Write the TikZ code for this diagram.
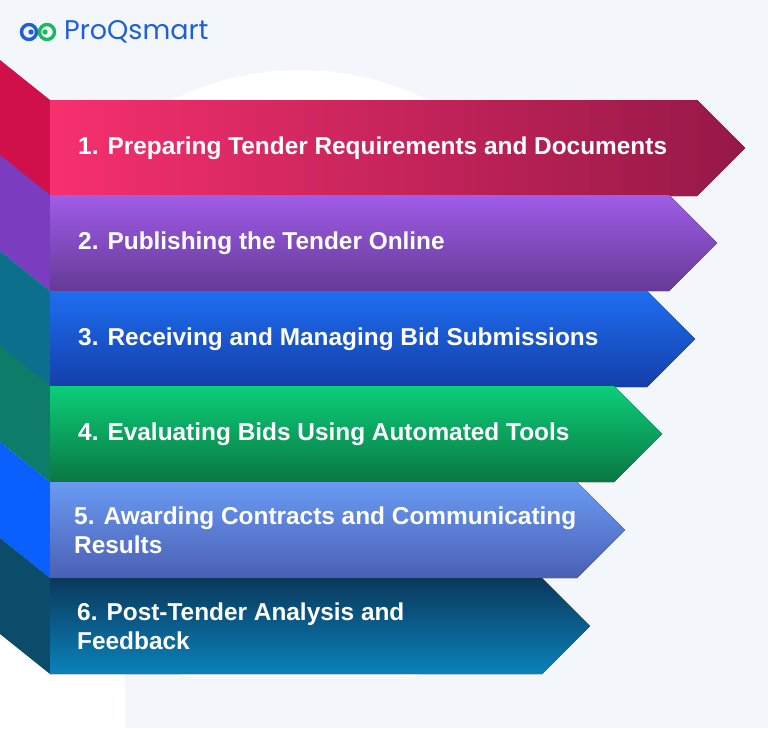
\documentclass[tikz,border=0pt]{standalone}
\usepackage{fontspec}
\setmainfont{Liberation Sans}
\newfontfamily\logofont{Poppins}
\begin{document}
\begin{tikzpicture}[x=1pt,y=-1pt,
  lbl/.style={anchor=west,text=white,font=\bfseries\fontsize{24.4}{29}\selectfont,align=left,inner sep=0pt}]
\useasboundingbox (0,0) rectangle (768,728);
\fill[fill={rgb,255:red,243;green,246;blue,251}] (0,0) rectangle (768,728);
\begin{scope}
\clip (0,0) rectangle (768,676);
\fill[white] (300,385) ellipse [x radius=300, y radius=315];
\end{scope}
\fill[white] (0,600) rectangle (125,728);
% logo
\draw[line width=3.4pt,color={rgb,255:red,30;green,95;blue,216}] (29,32) circle (7.5);
\fill[color={rgb,255:red,30;green,95;blue,216}] (31,32) circle (2.7);
\draw[line width=3.4pt,color={rgb,255:red,24;green,184;blue,96}] (47,32) circle (7.5);
\fill[color={rgb,255:red,24;green,184;blue,96}] (45,32) circle (2.7);
\node[anchor=west,inner sep=0pt,text={rgb,255:red,30;green,95;blue,216},font=\logofont\fontsize{27}{30}\selectfont] (logo) at (64,32) {ProQsmart};
\newcommand\band[7]{%
  \fill[#3] (0,#1-40) -- (50,#1) -- (50,#1+96) -- (0,#1+56) -- cycle;
  \fill[#4] (50,#1) -- (#2-48,#1) -- (#2,#1+48) -- (#2-48,#1+96) -- (50,#1+96) -- cycle;
  \node[lbl] (#6) at (#7,#1+48) {#5};}
\band{100}{745}{fill={rgb,255:red,208;green,16;blue,74}}{left color={rgb,255:red,246;green,48;blue,110},right color={rgb,255:red,150;green,24;blue,72}}{1. Preparing Tender Requirements and Documents}{b1}{78}
\band{195}{717}{fill={rgb,255:red,122;green,61;blue,192}}{top color={rgb,255:red,160;green,92;blue,232},bottom color={rgb,255:red,100;green,58;blue,150}}{2. Publishing the Tender Online}{b2}{78}
\band{291}{695}{fill={rgb,255:red,12;green,112;blue,140}}{top color={rgb,255:red,30;green,110;blue,240},bottom color={rgb,255:red,20;green,62;blue,170}}{3. Receiving and Managing Bid Submissions}{b3}{78}
\band{386}{662}{fill={rgb,255:red,14;green,124;blue,104}}{top color={rgb,255:red,12;green,206;blue,122},bottom color={rgb,255:red,10;green,118;blue,66}}{4. Evaluating Bids Using Automated Tools}{b4}{78}
\band{482}{625}{fill={rgb,255:red,10;green,96;blue,255}}{top color={rgb,255:red,106;green,154;blue,242},bottom color={rgb,255:red,74;green,96;blue,180}}{5. Awarding Contracts and Communicating\\Results}{b5}{74}
\band{578}{590}{fill={rgb,255:red,10;green,76;blue,106}}{top color={rgb,255:red,10;green,56;blue,92},bottom color={rgb,255:red,10;green,130;blue,186}}{6. Post-Tender Analysis and\\Feedback}{b6}{77}
\end{tikzpicture}
\end{document}
